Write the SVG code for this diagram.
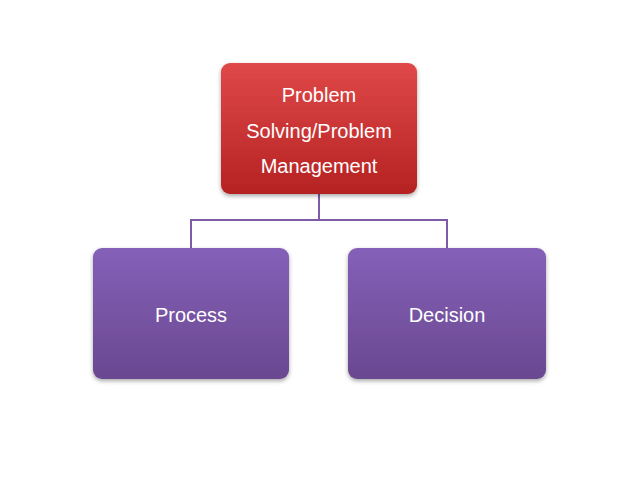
<svg xmlns="http://www.w3.org/2000/svg" width="638" height="478" viewBox="0 0 638 478">
<defs>
<linearGradient id="red" x1="0" y1="0" x2="0" y2="1"><stop offset="0" stop-color="#e04848"/><stop offset="1" stop-color="#b52222"/></linearGradient>
<linearGradient id="pur" x1="0" y1="0" x2="0" y2="1"><stop offset="0" stop-color="#8560b8"/><stop offset="1" stop-color="#6a4890"/></linearGradient>
<filter id="sh" x="-10%" y="-10%" width="120%" height="125%"><feDropShadow dx="0" dy="2" stdDeviation="2" flood-opacity="0.35"/></filter>
<style>
text{font-family:"Liberation Sans",Arial,sans-serif;font-size:20px;fill:#fff;text-anchor:middle}
.c{fill:none;stroke:#7d5ba6;stroke-width:2}
</style>
</defs>
<rect width="638" height="478" fill="#fff"/>
<g id="connectors"><path class="c" d="M319 194V220M191 248V220H447V248"/></g>
<g id="top"><rect x="221" y="63" width="196" height="131" rx="9" fill="url(#red)" filter="url(#sh)"/>
<text x="319" y="102">Problem</text><text x="319" y="138">Solving/Problem</text><text x="319" y="173">Management</text></g>
<g id="process"><rect x="93" y="248" width="196" height="131" rx="9" fill="url(#pur)" filter="url(#sh)"/><text x="191" y="322">Process</text></g>
<g id="decision"><rect x="348" y="248" width="198" height="131" rx="9" fill="url(#pur)" filter="url(#sh)"/><text x="447" y="322">Decision</text></g>
</svg>
